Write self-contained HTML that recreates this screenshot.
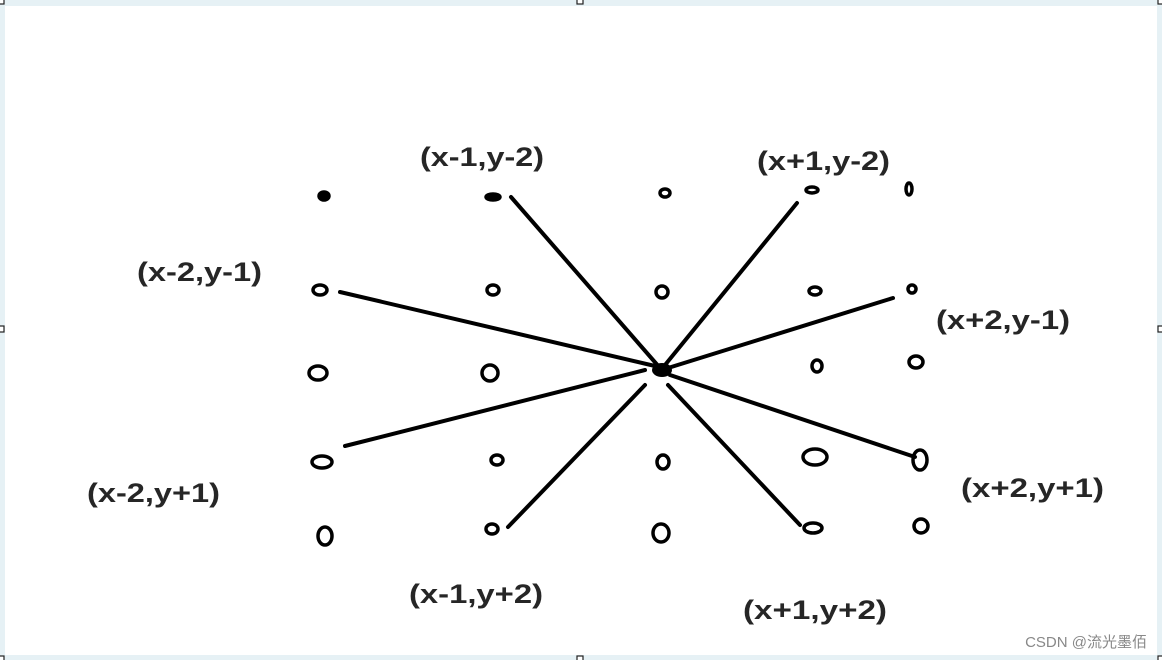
<!DOCTYPE html>
<html><head><style>
html,body{margin:0;padding:0;background:#fff;}
svg{display:block;}
</style></head><body>
<svg width="1162" height="660" xmlns="http://www.w3.org/2000/svg">
<rect x="0" y="0" width="1162" height="660" fill="#e6f1f5"/>
<rect x="5" y="6" width="1152" height="649" fill="#fff"/>
<g fill="#fff" stroke="#222" stroke-width="1.2">
<rect x="-2" y="-2" width="6" height="6"/><rect x="577" y="-2" width="6" height="6"/><rect x="1158" y="-2" width="6" height="6"/>
<rect x="-2" y="326" width="6" height="6"/><rect x="1158" y="326" width="6" height="6"/>
<rect x="-2" y="656" width="6" height="6"/><rect x="577" y="656" width="6" height="6"/><rect x="1158" y="656" width="6" height="6"/>
</g>
<g stroke="#000" stroke-width="4" stroke-linecap="round">
<line x1="511" y1="197" x2="660" y2="368"/>
<line x1="797" y1="203" x2="665" y2="365"/>
<line x1="340" y1="292" x2="655" y2="366"/>
<line x1="893" y1="298" x2="668" y2="368"/>
<line x1="345" y1="446" x2="645" y2="370"/>
<line x1="915" y1="457" x2="670" y2="375"/>
<line x1="508" y1="527" x2="645" y2="385"/>
<line x1="800" y1="525" x2="668" y2="385"/>
</g>
<ellipse cx="662" cy="370" rx="10" ry="7" fill="#000"/>
<g fill="none" stroke="#000" stroke-width="3.5">
<ellipse cx="324" cy="196" rx="5" ry="4" fill="#000"/>
<ellipse cx="493" cy="197" rx="7" ry="3" fill="#000"/>
<ellipse cx="665" cy="193" rx="5" ry="4"/>
<ellipse cx="812" cy="190" rx="6" ry="3"/>
<ellipse cx="909" cy="189" rx="3" ry="6"/>
<ellipse cx="320" cy="290" rx="7" ry="5"/>
<ellipse cx="493" cy="290" rx="6" ry="5"/>
<ellipse cx="662" cy="292" rx="6" ry="6"/>
<ellipse cx="815" cy="291" rx="6" ry="4"/>
<ellipse cx="912" cy="289" rx="4" ry="4"/>
<ellipse cx="318" cy="373" rx="9" ry="7"/>
<ellipse cx="490" cy="373" rx="8" ry="8"/>
<ellipse cx="817" cy="366" rx="5" ry="6"/>
<ellipse cx="916" cy="362" rx="7" ry="6"/>
<ellipse cx="322" cy="462" rx="10" ry="6"/>
<ellipse cx="497" cy="460" rx="6" ry="5"/>
<ellipse cx="663" cy="462" rx="6" ry="7"/>
<ellipse cx="815" cy="457" rx="12" ry="8"/>
<ellipse cx="920" cy="460" rx="7" ry="10"/>
<ellipse cx="325" cy="536" rx="7" ry="9"/>
<ellipse cx="492" cy="529" rx="6" ry="5"/>
<ellipse cx="661" cy="533" rx="8" ry="9"/>
<ellipse cx="813" cy="528" rx="9" ry="5"/>
<ellipse cx="921" cy="526" rx="7" ry="7"/>
</g>
<g font-family="Liberation Sans, sans-serif" font-weight="bold" font-size="27" fill="#262626" lengthAdjust="spacingAndGlyphs">
<text x="420" y="166" textLength="124" lengthAdjust="spacingAndGlyphs">(x-1,y-2)</text>
<text x="757" y="170" textLength="133" lengthAdjust="spacingAndGlyphs">(x+1,y-2)</text>
<text x="137" y="281" textLength="125" lengthAdjust="spacingAndGlyphs">(x-2,y-1)</text>
<text x="936" y="329" textLength="134" lengthAdjust="spacingAndGlyphs">(x+2,y-1)</text>
<text x="87" y="502" textLength="133" lengthAdjust="spacingAndGlyphs">(x-2,y+1)</text>
<text x="961" y="497" textLength="143" lengthAdjust="spacingAndGlyphs">(x+2,y+1)</text>
<text x="409" y="603" textLength="134" lengthAdjust="spacingAndGlyphs">(x-1,y+2)</text>
<text x="743" y="619" textLength="144" lengthAdjust="spacingAndGlyphs">(x+1,y+2)</text>
</g>
<text x="1147" y="647" text-anchor="end" font-family="Liberation Sans, Noto Sans CJK SC, sans-serif" font-size="15" fill="#888">CSDN @流光墨佰</text>
</svg>
</body></html>
